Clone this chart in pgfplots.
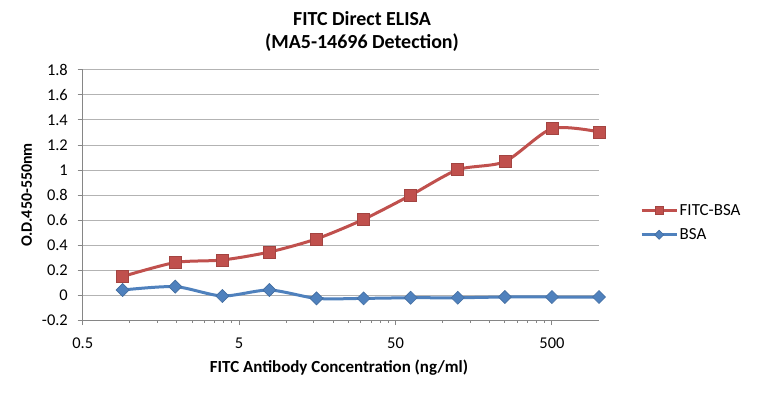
\documentclass[border=0pt]{standalone}
\usepackage{fontspec}
\setmainfont{Carlito}
\usepackage{pgfplots}
\pgfplotsset{compat=1.18}
\definecolor{exred}{HTML}{C0504D}
\definecolor{exblue}{HTML}{4F81BD}
\definecolor{axgray}{HTML}{868686}
\definecolor{gridgray}{HTML}{B3B3B3}
\begin{document}
\begin{tikzpicture}[x=1bp,y=1bp]
\path[use as bounding box, fill=white] (0,0) rectangle (769,400);
\begin{axis}[
  at={(82.7bp,80bp)}, anchor=south west,
  scale only axis, width=516.3bp, height=250bp,
  xmode=log, xmin=0.5, xmax=1000, ymin=-0.2, ymax=1.8,
  xtick={0.5,5,50,500}, xticklabels={0.5,5,50,500},
  ytick={-0.2,0,0.2,0.4,0.6,0.8,1,1.2,1.4,1.6,1.8},
  minor xtick={}, 
  axis lines*=left,
  axis line style={-, draw=axgray, line width=1bp},
  ymajorgrids, grid style={gridgray, line width=1bp},
  tick align=outside, major tick length=5bp,
  tick style={axgray, line width=1bp},
  tick label style={font=\fontsize{16.5}{18}\selectfont, inner sep=0pt},
  xticklabel style={anchor=north, yshift=-12.7bp},
  yticklabel style={anchor=east, xshift=-9.7bp},
  /pgf/number format/assume math mode=true,
  title={FITC Direct ELISA\\(MA5-14696 Detection)},
  title style={align=center, font=\bfseries\fontsize{20}{23}\selectfont,
    at={(axis description cs:0.541,1.064)}, anchor=base},
  xlabel={FITC Antibody Concentration (ng/ml)},
  xlabel style={font=\bfseries\fontsize{17}{20}\selectfont,
    at={(axis description cs:0.4964,-0.208)}, anchor=base},
  ylabel={O.D.450-550nm},
  ylabel style={font=\bfseries\fontsize{16}{19}\selectfont,
    at={(axis description cs:-0.0982,0.5)}, anchor=base, rotate=0},
  legend style={at={(axis description cs:1.0794,0.39)}, anchor=west,
    draw=none, fill=none, inner sep=0pt, row sep=9bp,
    font=\fontsize{17}{20}\selectfont, nodes={inner sep=1.5bp}},
  legend cell align=left,
  legend image code/.code={%
    \draw[mark repeat=2, mark phase=2, #1, every mark/.append style={scale=0.7}]
      plot coordinates {(0bp,0bp) (17.5bp,0bp) (35bp,0bp)};},
]
\addplot[smooth, tension=0.45, exred, line width=3bp, mark=square*, mark size=6bp,
  mark options={fill=exred, draw=exred!85!black, line width=0.6bp}]
  coordinates {(0.9,0.148) (1.953,0.260) (3.906,0.280) (7.8125,0.344) (15.625,0.449)
    (31.25,0.605) (62.5,0.798) (125,1.002) (250,1.067) (500,1.331) (1000,1.305)};
\addlegendentry{FITC-BSA}
\addplot[smooth, tension=0.45, exblue, line width=3bp, mark=square*, mark size=4.6bp,
  mark options={fill=exblue, draw=exblue!85!black, line width=0.6bp, rotate=45}]
  coordinates {(0.9,0.040) (1.953,0.067) (3.906,-0.008) (7.8125,0.040) (15.625,-0.027)
    (31.25,-0.027) (62.5,-0.022) (125,-0.022) (250,-0.016) (500,-0.016) (1000,-0.016)};
\addlegendentry{BSA}
\end{axis}
\end{tikzpicture}
\end{document}
